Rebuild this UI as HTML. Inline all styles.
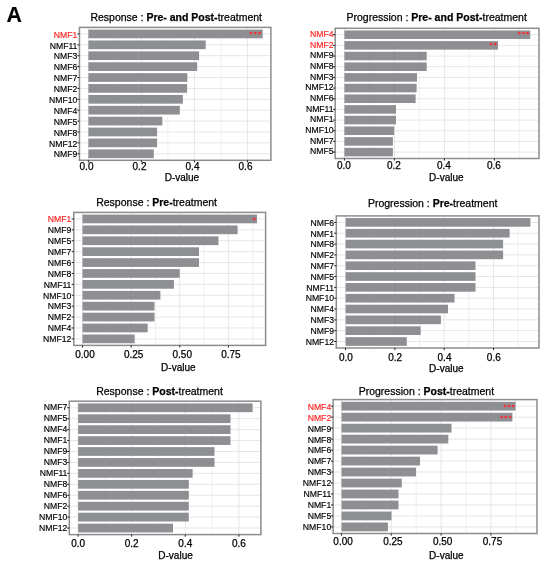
<!DOCTYPE html>
<html><head><meta charset="utf-8"><title>D-value bar charts</title>
<style>
html,body{margin:0;padding:0;background:#fff;}
svg{display:block;}
text{font-family:"Liberation Sans", Arial, sans-serif;}
.yl{font-size:9.5px;fill:#000;stroke:#000;stroke-width:0.18px;text-anchor:end;}
.xl{font-size:10px;fill:#000;stroke:#000;stroke-width:0.25px;text-anchor:middle;}
.tt{font-size:10.5px;fill:#000;stroke:#000;stroke-width:0.25px;}
.tt .b{font-weight:bold;}
.dv{font-size:10px;fill:#000;stroke:#000;stroke-width:0.25px;}
.st{font-size:6.2px;font-weight:bold;letter-spacing:1.75px;fill:#f5333f;stroke:#f5333f;stroke-width:0.6px;stroke-linejoin:round;}
.r{fill:#ff2222;stroke:#ff2222;}
</style></head><body>
<svg width="550" height="565" viewBox="0 0 550 565">
<rect width="550" height="565" fill="#fff"/>
<g>
<line x1="114.9" y1="27.4" x2="114.9" y2="160.3" stroke="#e6e6e6" stroke-width="0.6"/>
<line x1="167.9" y1="27.4" x2="167.9" y2="160.3" stroke="#e6e6e6" stroke-width="0.6"/>
<line x1="220.9" y1="27.4" x2="220.9" y2="160.3" stroke="#e6e6e6" stroke-width="0.6"/>
<line x1="88.4" y1="27.4" x2="88.4" y2="160.3" stroke="#e6e6e6" stroke-width="1"/>
<line x1="141.4" y1="27.4" x2="141.4" y2="160.3" stroke="#e6e6e6" stroke-width="1"/>
<line x1="194.4" y1="27.4" x2="194.4" y2="160.3" stroke="#e6e6e6" stroke-width="1"/>
<line x1="247.4" y1="27.4" x2="247.4" y2="160.3" stroke="#e6e6e6" stroke-width="1"/>
<line x1="79.45" y1="33.94" x2="270.9" y2="33.94" stroke="#e6e6e6" stroke-width="1"/>
<line x1="79.45" y1="44.83" x2="270.9" y2="44.83" stroke="#e6e6e6" stroke-width="1"/>
<line x1="79.45" y1="55.72" x2="270.9" y2="55.72" stroke="#e6e6e6" stroke-width="1"/>
<line x1="79.45" y1="66.62" x2="270.9" y2="66.62" stroke="#e6e6e6" stroke-width="1"/>
<line x1="79.45" y1="77.51" x2="270.9" y2="77.51" stroke="#e6e6e6" stroke-width="1"/>
<line x1="79.45" y1="88.4" x2="270.9" y2="88.4" stroke="#e6e6e6" stroke-width="1"/>
<line x1="79.45" y1="99.3" x2="270.9" y2="99.3" stroke="#e6e6e6" stroke-width="1"/>
<line x1="79.45" y1="110.19" x2="270.9" y2="110.19" stroke="#e6e6e6" stroke-width="1"/>
<line x1="79.45" y1="121.08" x2="270.9" y2="121.08" stroke="#e6e6e6" stroke-width="1"/>
<line x1="79.45" y1="131.98" x2="270.9" y2="131.98" stroke="#e6e6e6" stroke-width="1"/>
<line x1="79.45" y1="142.87" x2="270.9" y2="142.87" stroke="#e6e6e6" stroke-width="1"/>
<line x1="79.45" y1="153.76" x2="270.9" y2="153.76" stroke="#e6e6e6" stroke-width="1"/>
<rect x="88.4" y="29.58" width="174.3" height="8.71" fill="#8e8f93"/>
<rect x="88.4" y="40.47" width="117.3" height="8.71" fill="#8e8f93"/>
<rect x="88.4" y="51.37" width="110.7" height="8.71" fill="#8e8f93"/>
<rect x="88.4" y="62.26" width="108.8" height="8.71" fill="#8e8f93"/>
<rect x="88.4" y="73.15" width="98.9" height="8.71" fill="#8e8f93"/>
<rect x="88.4" y="84.05" width="98.7" height="8.71" fill="#8e8f93"/>
<rect x="88.4" y="94.94" width="94.5" height="8.71" fill="#8e8f93"/>
<rect x="88.4" y="105.83" width="91.4" height="8.71" fill="#8e8f93"/>
<rect x="88.4" y="116.73" width="73.9" height="8.71" fill="#8e8f93"/>
<rect x="88.4" y="127.62" width="68.7" height="8.71" fill="#8e8f93"/>
<rect x="88.4" y="138.51" width="68.7" height="8.71" fill="#8e8f93"/>
<rect x="88.4" y="149.41" width="65.4" height="8.71" fill="#8e8f93"/>
<rect x="79.45" y="27.4" width="191.45" height="132.9" fill="none" stroke="#8c8c8c" stroke-width="1.5"/>
<line x1="77.35" y1="33.94" x2="79.45" y2="33.94" stroke="#222" stroke-width="1"/>
<line x1="77.35" y1="44.83" x2="79.45" y2="44.83" stroke="#222" stroke-width="1"/>
<line x1="77.35" y1="55.72" x2="79.45" y2="55.72" stroke="#222" stroke-width="1"/>
<line x1="77.35" y1="66.62" x2="79.45" y2="66.62" stroke="#222" stroke-width="1"/>
<line x1="77.35" y1="77.51" x2="79.45" y2="77.51" stroke="#222" stroke-width="1"/>
<line x1="77.35" y1="88.4" x2="79.45" y2="88.4" stroke="#222" stroke-width="1"/>
<line x1="77.35" y1="99.3" x2="79.45" y2="99.3" stroke="#222" stroke-width="1"/>
<line x1="77.35" y1="110.19" x2="79.45" y2="110.19" stroke="#222" stroke-width="1"/>
<line x1="77.35" y1="121.08" x2="79.45" y2="121.08" stroke="#222" stroke-width="1"/>
<line x1="77.35" y1="131.98" x2="79.45" y2="131.98" stroke="#222" stroke-width="1"/>
<line x1="77.35" y1="142.87" x2="79.45" y2="142.87" stroke="#222" stroke-width="1"/>
<line x1="77.35" y1="153.76" x2="79.45" y2="153.76" stroke="#222" stroke-width="1"/>
<line x1="88.4" y1="160.3" x2="88.4" y2="162.4" stroke="#222" stroke-width="1"/>
<line x1="141.4" y1="160.3" x2="141.4" y2="162.4" stroke="#222" stroke-width="1"/>
<line x1="194.4" y1="160.3" x2="194.4" y2="162.4" stroke="#222" stroke-width="1"/>
<line x1="247.4" y1="160.3" x2="247.4" y2="162.4" stroke="#222" stroke-width="1"/>
<line x1="369.4" y1="28.3" x2="369.4" y2="158.5" stroke="#e6e6e6" stroke-width="0.6"/>
<line x1="419.4" y1="28.3" x2="419.4" y2="158.5" stroke="#e6e6e6" stroke-width="0.6"/>
<line x1="469.4" y1="28.3" x2="469.4" y2="158.5" stroke="#e6e6e6" stroke-width="0.6"/>
<line x1="519.4" y1="28.3" x2="519.4" y2="158.5" stroke="#e6e6e6" stroke-width="0.6"/>
<line x1="344.4" y1="28.3" x2="344.4" y2="158.5" stroke="#e6e6e6" stroke-width="1"/>
<line x1="394.4" y1="28.3" x2="394.4" y2="158.5" stroke="#e6e6e6" stroke-width="1"/>
<line x1="444.4" y1="28.3" x2="444.4" y2="158.5" stroke="#e6e6e6" stroke-width="1"/>
<line x1="494.4" y1="28.3" x2="494.4" y2="158.5" stroke="#e6e6e6" stroke-width="1"/>
<line x1="335.2" y1="34.7" x2="539" y2="34.7" stroke="#e6e6e6" stroke-width="1"/>
<line x1="335.2" y1="45.38" x2="539" y2="45.38" stroke="#e6e6e6" stroke-width="1"/>
<line x1="335.2" y1="56.05" x2="539" y2="56.05" stroke="#e6e6e6" stroke-width="1"/>
<line x1="335.2" y1="66.72" x2="539" y2="66.72" stroke="#e6e6e6" stroke-width="1"/>
<line x1="335.2" y1="77.39" x2="539" y2="77.39" stroke="#e6e6e6" stroke-width="1"/>
<line x1="335.2" y1="88.06" x2="539" y2="88.06" stroke="#e6e6e6" stroke-width="1"/>
<line x1="335.2" y1="98.74" x2="539" y2="98.74" stroke="#e6e6e6" stroke-width="1"/>
<line x1="335.2" y1="109.41" x2="539" y2="109.41" stroke="#e6e6e6" stroke-width="1"/>
<line x1="335.2" y1="120.08" x2="539" y2="120.08" stroke="#e6e6e6" stroke-width="1"/>
<line x1="335.2" y1="130.75" x2="539" y2="130.75" stroke="#e6e6e6" stroke-width="1"/>
<line x1="335.2" y1="141.42" x2="539" y2="141.42" stroke="#e6e6e6" stroke-width="1"/>
<line x1="335.2" y1="152.1" x2="539" y2="152.1" stroke="#e6e6e6" stroke-width="1"/>
<rect x="344.4" y="30.43" width="185.9" height="8.54" fill="#8e8f93"/>
<rect x="344.4" y="41.11" width="153.6" height="8.54" fill="#8e8f93"/>
<rect x="344.4" y="51.78" width="82.3" height="8.54" fill="#8e8f93"/>
<rect x="344.4" y="62.45" width="82.3" height="8.54" fill="#8e8f93"/>
<rect x="344.4" y="73.12" width="72.6" height="8.54" fill="#8e8f93"/>
<rect x="344.4" y="83.8" width="72.2" height="8.54" fill="#8e8f93"/>
<rect x="344.4" y="94.47" width="71.2" height="8.54" fill="#8e8f93"/>
<rect x="344.4" y="105.14" width="51.6" height="8.54" fill="#8e8f93"/>
<rect x="344.4" y="115.81" width="51.6" height="8.54" fill="#8e8f93"/>
<rect x="344.4" y="126.48" width="49.8" height="8.54" fill="#8e8f93"/>
<rect x="344.4" y="137.16" width="48.5" height="8.54" fill="#8e8f93"/>
<rect x="344.4" y="147.83" width="48.5" height="8.54" fill="#8e8f93"/>
<rect x="335.2" y="28.3" width="203.8" height="130.2" fill="none" stroke="#8c8c8c" stroke-width="1.5"/>
<line x1="333.1" y1="34.7" x2="335.2" y2="34.7" stroke="#222" stroke-width="1"/>
<line x1="333.1" y1="45.38" x2="335.2" y2="45.38" stroke="#222" stroke-width="1"/>
<line x1="333.1" y1="56.05" x2="335.2" y2="56.05" stroke="#222" stroke-width="1"/>
<line x1="333.1" y1="66.72" x2="335.2" y2="66.72" stroke="#222" stroke-width="1"/>
<line x1="333.1" y1="77.39" x2="335.2" y2="77.39" stroke="#222" stroke-width="1"/>
<line x1="333.1" y1="88.06" x2="335.2" y2="88.06" stroke="#222" stroke-width="1"/>
<line x1="333.1" y1="98.74" x2="335.2" y2="98.74" stroke="#222" stroke-width="1"/>
<line x1="333.1" y1="109.41" x2="335.2" y2="109.41" stroke="#222" stroke-width="1"/>
<line x1="333.1" y1="120.08" x2="335.2" y2="120.08" stroke="#222" stroke-width="1"/>
<line x1="333.1" y1="130.75" x2="335.2" y2="130.75" stroke="#222" stroke-width="1"/>
<line x1="333.1" y1="141.42" x2="335.2" y2="141.42" stroke="#222" stroke-width="1"/>
<line x1="333.1" y1="152.1" x2="335.2" y2="152.1" stroke="#222" stroke-width="1"/>
<line x1="344.4" y1="158.5" x2="344.4" y2="160.6" stroke="#222" stroke-width="1"/>
<line x1="394.4" y1="158.5" x2="394.4" y2="160.6" stroke="#222" stroke-width="1"/>
<line x1="444.4" y1="158.5" x2="444.4" y2="160.6" stroke="#222" stroke-width="1"/>
<line x1="494.4" y1="158.5" x2="494.4" y2="160.6" stroke="#222" stroke-width="1"/>
<line x1="106.81" y1="212.4" x2="106.81" y2="345.4" stroke="#e6e6e6" stroke-width="0.6"/>
<line x1="155.44" y1="212.4" x2="155.44" y2="345.4" stroke="#e6e6e6" stroke-width="0.6"/>
<line x1="204.06" y1="212.4" x2="204.06" y2="345.4" stroke="#e6e6e6" stroke-width="0.6"/>
<line x1="252.69" y1="212.4" x2="252.69" y2="345.4" stroke="#e6e6e6" stroke-width="0.6"/>
<line x1="82.5" y1="212.4" x2="82.5" y2="345.4" stroke="#e6e6e6" stroke-width="1"/>
<line x1="131.12" y1="212.4" x2="131.12" y2="345.4" stroke="#e6e6e6" stroke-width="1"/>
<line x1="179.75" y1="212.4" x2="179.75" y2="345.4" stroke="#e6e6e6" stroke-width="1"/>
<line x1="228.38" y1="212.4" x2="228.38" y2="345.4" stroke="#e6e6e6" stroke-width="1"/>
<line x1="73.8" y1="218.94" x2="265.6" y2="218.94" stroke="#e6e6e6" stroke-width="1"/>
<line x1="73.8" y1="229.84" x2="265.6" y2="229.84" stroke="#e6e6e6" stroke-width="1"/>
<line x1="73.8" y1="240.74" x2="265.6" y2="240.74" stroke="#e6e6e6" stroke-width="1"/>
<line x1="73.8" y1="251.65" x2="265.6" y2="251.65" stroke="#e6e6e6" stroke-width="1"/>
<line x1="73.8" y1="262.55" x2="265.6" y2="262.55" stroke="#e6e6e6" stroke-width="1"/>
<line x1="73.8" y1="273.45" x2="265.6" y2="273.45" stroke="#e6e6e6" stroke-width="1"/>
<line x1="73.8" y1="284.35" x2="265.6" y2="284.35" stroke="#e6e6e6" stroke-width="1"/>
<line x1="73.8" y1="295.25" x2="265.6" y2="295.25" stroke="#e6e6e6" stroke-width="1"/>
<line x1="73.8" y1="306.15" x2="265.6" y2="306.15" stroke="#e6e6e6" stroke-width="1"/>
<line x1="73.8" y1="317.06" x2="265.6" y2="317.06" stroke="#e6e6e6" stroke-width="1"/>
<line x1="73.8" y1="327.96" x2="265.6" y2="327.96" stroke="#e6e6e6" stroke-width="1"/>
<line x1="73.8" y1="338.86" x2="265.6" y2="338.86" stroke="#e6e6e6" stroke-width="1"/>
<rect x="82.5" y="214.58" width="174.5" height="8.72" fill="#8e8f93"/>
<rect x="82.5" y="225.48" width="155.1" height="8.72" fill="#8e8f93"/>
<rect x="82.5" y="236.38" width="136" height="8.72" fill="#8e8f93"/>
<rect x="82.5" y="247.29" width="116.5" height="8.72" fill="#8e8f93"/>
<rect x="82.5" y="258.19" width="116.5" height="8.72" fill="#8e8f93"/>
<rect x="82.5" y="269.09" width="97.2" height="8.72" fill="#8e8f93"/>
<rect x="82.5" y="279.99" width="91.4" height="8.72" fill="#8e8f93"/>
<rect x="82.5" y="290.89" width="77.9" height="8.72" fill="#8e8f93"/>
<rect x="82.5" y="301.79" width="72" height="8.72" fill="#8e8f93"/>
<rect x="82.5" y="312.7" width="72" height="8.72" fill="#8e8f93"/>
<rect x="82.5" y="323.6" width="65.2" height="8.72" fill="#8e8f93"/>
<rect x="82.5" y="334.5" width="52.2" height="8.72" fill="#8e8f93"/>
<rect x="73.8" y="212.4" width="191.8" height="133" fill="none" stroke="#8c8c8c" stroke-width="1.5"/>
<line x1="71.7" y1="218.94" x2="73.8" y2="218.94" stroke="#222" stroke-width="1"/>
<line x1="71.7" y1="229.84" x2="73.8" y2="229.84" stroke="#222" stroke-width="1"/>
<line x1="71.7" y1="240.74" x2="73.8" y2="240.74" stroke="#222" stroke-width="1"/>
<line x1="71.7" y1="251.65" x2="73.8" y2="251.65" stroke="#222" stroke-width="1"/>
<line x1="71.7" y1="262.55" x2="73.8" y2="262.55" stroke="#222" stroke-width="1"/>
<line x1="71.7" y1="273.45" x2="73.8" y2="273.45" stroke="#222" stroke-width="1"/>
<line x1="71.7" y1="284.35" x2="73.8" y2="284.35" stroke="#222" stroke-width="1"/>
<line x1="71.7" y1="295.25" x2="73.8" y2="295.25" stroke="#222" stroke-width="1"/>
<line x1="71.7" y1="306.15" x2="73.8" y2="306.15" stroke="#222" stroke-width="1"/>
<line x1="71.7" y1="317.06" x2="73.8" y2="317.06" stroke="#222" stroke-width="1"/>
<line x1="71.7" y1="327.96" x2="73.8" y2="327.96" stroke="#222" stroke-width="1"/>
<line x1="71.7" y1="338.86" x2="73.8" y2="338.86" stroke="#222" stroke-width="1"/>
<line x1="82.5" y1="345.4" x2="82.5" y2="347.5" stroke="#222" stroke-width="1"/>
<line x1="131.12" y1="345.4" x2="131.12" y2="347.5" stroke="#222" stroke-width="1"/>
<line x1="179.75" y1="345.4" x2="179.75" y2="347.5" stroke="#222" stroke-width="1"/>
<line x1="228.38" y1="345.4" x2="228.38" y2="347.5" stroke="#222" stroke-width="1"/>
<line x1="370.25" y1="215.9" x2="370.25" y2="348" stroke="#e6e6e6" stroke-width="0.6"/>
<line x1="419.55" y1="215.9" x2="419.55" y2="348" stroke="#e6e6e6" stroke-width="0.6"/>
<line x1="468.85" y1="215.9" x2="468.85" y2="348" stroke="#e6e6e6" stroke-width="0.6"/>
<line x1="518.15" y1="215.9" x2="518.15" y2="348" stroke="#e6e6e6" stroke-width="0.6"/>
<line x1="345.6" y1="215.9" x2="345.6" y2="348" stroke="#e6e6e6" stroke-width="1"/>
<line x1="394.9" y1="215.9" x2="394.9" y2="348" stroke="#e6e6e6" stroke-width="1"/>
<line x1="444.2" y1="215.9" x2="444.2" y2="348" stroke="#e6e6e6" stroke-width="1"/>
<line x1="493.5" y1="215.9" x2="493.5" y2="348" stroke="#e6e6e6" stroke-width="1"/>
<line x1="336.3" y1="222.4" x2="539" y2="222.4" stroke="#e6e6e6" stroke-width="1"/>
<line x1="336.3" y1="233.22" x2="539" y2="233.22" stroke="#e6e6e6" stroke-width="1"/>
<line x1="336.3" y1="244.05" x2="539" y2="244.05" stroke="#e6e6e6" stroke-width="1"/>
<line x1="336.3" y1="254.88" x2="539" y2="254.88" stroke="#e6e6e6" stroke-width="1"/>
<line x1="336.3" y1="265.71" x2="539" y2="265.71" stroke="#e6e6e6" stroke-width="1"/>
<line x1="336.3" y1="276.54" x2="539" y2="276.54" stroke="#e6e6e6" stroke-width="1"/>
<line x1="336.3" y1="287.36" x2="539" y2="287.36" stroke="#e6e6e6" stroke-width="1"/>
<line x1="336.3" y1="298.19" x2="539" y2="298.19" stroke="#e6e6e6" stroke-width="1"/>
<line x1="336.3" y1="309.02" x2="539" y2="309.02" stroke="#e6e6e6" stroke-width="1"/>
<line x1="336.3" y1="319.85" x2="539" y2="319.85" stroke="#e6e6e6" stroke-width="1"/>
<line x1="336.3" y1="330.68" x2="539" y2="330.68" stroke="#e6e6e6" stroke-width="1"/>
<line x1="336.3" y1="341.5" x2="539" y2="341.5" stroke="#e6e6e6" stroke-width="1"/>
<rect x="345.6" y="218.07" width="184.8" height="8.66" fill="#8e8f93"/>
<rect x="345.6" y="228.89" width="164" height="8.66" fill="#8e8f93"/>
<rect x="345.6" y="239.72" width="157.5" height="8.66" fill="#8e8f93"/>
<rect x="345.6" y="250.55" width="157.5" height="8.66" fill="#8e8f93"/>
<rect x="345.6" y="261.38" width="129.9" height="8.66" fill="#8e8f93"/>
<rect x="345.6" y="272.2" width="129.9" height="8.66" fill="#8e8f93"/>
<rect x="345.6" y="283.03" width="129.9" height="8.66" fill="#8e8f93"/>
<rect x="345.6" y="293.86" width="108.9" height="8.66" fill="#8e8f93"/>
<rect x="345.6" y="304.69" width="102.4" height="8.66" fill="#8e8f93"/>
<rect x="345.6" y="315.52" width="95.3" height="8.66" fill="#8e8f93"/>
<rect x="345.6" y="326.34" width="75.1" height="8.66" fill="#8e8f93"/>
<rect x="345.6" y="337.17" width="61.2" height="8.66" fill="#8e8f93"/>
<rect x="336.3" y="215.9" width="202.7" height="132.1" fill="none" stroke="#8c8c8c" stroke-width="1.5"/>
<line x1="334.2" y1="222.4" x2="336.3" y2="222.4" stroke="#222" stroke-width="1"/>
<line x1="334.2" y1="233.22" x2="336.3" y2="233.22" stroke="#222" stroke-width="1"/>
<line x1="334.2" y1="244.05" x2="336.3" y2="244.05" stroke="#222" stroke-width="1"/>
<line x1="334.2" y1="254.88" x2="336.3" y2="254.88" stroke="#222" stroke-width="1"/>
<line x1="334.2" y1="265.71" x2="336.3" y2="265.71" stroke="#222" stroke-width="1"/>
<line x1="334.2" y1="276.54" x2="336.3" y2="276.54" stroke="#222" stroke-width="1"/>
<line x1="334.2" y1="287.36" x2="336.3" y2="287.36" stroke="#222" stroke-width="1"/>
<line x1="334.2" y1="298.19" x2="336.3" y2="298.19" stroke="#222" stroke-width="1"/>
<line x1="334.2" y1="309.02" x2="336.3" y2="309.02" stroke="#222" stroke-width="1"/>
<line x1="334.2" y1="319.85" x2="336.3" y2="319.85" stroke="#222" stroke-width="1"/>
<line x1="334.2" y1="330.68" x2="336.3" y2="330.68" stroke="#222" stroke-width="1"/>
<line x1="334.2" y1="341.5" x2="336.3" y2="341.5" stroke="#222" stroke-width="1"/>
<line x1="345.6" y1="348" x2="345.6" y2="350.1" stroke="#222" stroke-width="1"/>
<line x1="394.9" y1="348" x2="394.9" y2="350.1" stroke="#222" stroke-width="1"/>
<line x1="444.2" y1="348" x2="444.2" y2="350.1" stroke="#222" stroke-width="1"/>
<line x1="493.5" y1="348" x2="493.5" y2="350.1" stroke="#222" stroke-width="1"/>
<line x1="104.9" y1="401.2" x2="104.9" y2="534.6" stroke="#e6e6e6" stroke-width="0.6"/>
<line x1="158.5" y1="401.2" x2="158.5" y2="534.6" stroke="#e6e6e6" stroke-width="0.6"/>
<line x1="212.1" y1="401.2" x2="212.1" y2="534.6" stroke="#e6e6e6" stroke-width="0.6"/>
<line x1="78.1" y1="401.2" x2="78.1" y2="534.6" stroke="#e6e6e6" stroke-width="1"/>
<line x1="131.7" y1="401.2" x2="131.7" y2="534.6" stroke="#e6e6e6" stroke-width="1"/>
<line x1="185.3" y1="401.2" x2="185.3" y2="534.6" stroke="#e6e6e6" stroke-width="1"/>
<line x1="238.9" y1="401.2" x2="238.9" y2="534.6" stroke="#e6e6e6" stroke-width="1"/>
<line x1="69.3" y1="407.76" x2="260.9" y2="407.76" stroke="#e6e6e6" stroke-width="1"/>
<line x1="69.3" y1="418.7" x2="260.9" y2="418.7" stroke="#e6e6e6" stroke-width="1"/>
<line x1="69.3" y1="429.63" x2="260.9" y2="429.63" stroke="#e6e6e6" stroke-width="1"/>
<line x1="69.3" y1="440.56" x2="260.9" y2="440.56" stroke="#e6e6e6" stroke-width="1"/>
<line x1="69.3" y1="451.5" x2="260.9" y2="451.5" stroke="#e6e6e6" stroke-width="1"/>
<line x1="69.3" y1="462.43" x2="260.9" y2="462.43" stroke="#e6e6e6" stroke-width="1"/>
<line x1="69.3" y1="473.37" x2="260.9" y2="473.37" stroke="#e6e6e6" stroke-width="1"/>
<line x1="69.3" y1="484.3" x2="260.9" y2="484.3" stroke="#e6e6e6" stroke-width="1"/>
<line x1="69.3" y1="495.24" x2="260.9" y2="495.24" stroke="#e6e6e6" stroke-width="1"/>
<line x1="69.3" y1="506.17" x2="260.9" y2="506.17" stroke="#e6e6e6" stroke-width="1"/>
<line x1="69.3" y1="517.1" x2="260.9" y2="517.1" stroke="#e6e6e6" stroke-width="1"/>
<line x1="69.3" y1="528.04" x2="260.9" y2="528.04" stroke="#e6e6e6" stroke-width="1"/>
<rect x="78.1" y="403.39" width="174.5" height="8.75" fill="#8e8f93"/>
<rect x="78.1" y="414.32" width="152.4" height="8.75" fill="#8e8f93"/>
<rect x="78.1" y="425.26" width="152.4" height="8.75" fill="#8e8f93"/>
<rect x="78.1" y="436.19" width="152.4" height="8.75" fill="#8e8f93"/>
<rect x="78.1" y="447.12" width="136.4" height="8.75" fill="#8e8f93"/>
<rect x="78.1" y="458.06" width="136.4" height="8.75" fill="#8e8f93"/>
<rect x="78.1" y="468.99" width="114.5" height="8.75" fill="#8e8f93"/>
<rect x="78.1" y="479.93" width="110.7" height="8.75" fill="#8e8f93"/>
<rect x="78.1" y="490.86" width="110.7" height="8.75" fill="#8e8f93"/>
<rect x="78.1" y="501.8" width="110.7" height="8.75" fill="#8e8f93"/>
<rect x="78.1" y="512.73" width="110.7" height="8.75" fill="#8e8f93"/>
<rect x="78.1" y="523.67" width="94.9" height="8.75" fill="#8e8f93"/>
<rect x="69.3" y="401.2" width="191.6" height="133.4" fill="none" stroke="#8c8c8c" stroke-width="1.5"/>
<line x1="67.2" y1="407.76" x2="69.3" y2="407.76" stroke="#222" stroke-width="1"/>
<line x1="67.2" y1="418.7" x2="69.3" y2="418.7" stroke="#222" stroke-width="1"/>
<line x1="67.2" y1="429.63" x2="69.3" y2="429.63" stroke="#222" stroke-width="1"/>
<line x1="67.2" y1="440.56" x2="69.3" y2="440.56" stroke="#222" stroke-width="1"/>
<line x1="67.2" y1="451.5" x2="69.3" y2="451.5" stroke="#222" stroke-width="1"/>
<line x1="67.2" y1="462.43" x2="69.3" y2="462.43" stroke="#222" stroke-width="1"/>
<line x1="67.2" y1="473.37" x2="69.3" y2="473.37" stroke="#222" stroke-width="1"/>
<line x1="67.2" y1="484.3" x2="69.3" y2="484.3" stroke="#222" stroke-width="1"/>
<line x1="67.2" y1="495.24" x2="69.3" y2="495.24" stroke="#222" stroke-width="1"/>
<line x1="67.2" y1="506.17" x2="69.3" y2="506.17" stroke="#222" stroke-width="1"/>
<line x1="67.2" y1="517.1" x2="69.3" y2="517.1" stroke="#222" stroke-width="1"/>
<line x1="67.2" y1="528.04" x2="69.3" y2="528.04" stroke="#222" stroke-width="1"/>
<line x1="78.1" y1="534.6" x2="78.1" y2="536.7" stroke="#222" stroke-width="1"/>
<line x1="131.7" y1="534.6" x2="131.7" y2="536.7" stroke="#222" stroke-width="1"/>
<line x1="185.3" y1="534.6" x2="185.3" y2="536.7" stroke="#222" stroke-width="1"/>
<line x1="238.9" y1="534.6" x2="238.9" y2="536.7" stroke="#222" stroke-width="1"/>
<line x1="366.4" y1="399.6" x2="366.4" y2="533.5" stroke="#e6e6e6" stroke-width="0.6"/>
<line x1="416.2" y1="399.6" x2="416.2" y2="533.5" stroke="#e6e6e6" stroke-width="0.6"/>
<line x1="466" y1="399.6" x2="466" y2="533.5" stroke="#e6e6e6" stroke-width="0.6"/>
<line x1="515.8" y1="399.6" x2="515.8" y2="533.5" stroke="#e6e6e6" stroke-width="0.6"/>
<line x1="341.5" y1="399.6" x2="341.5" y2="533.5" stroke="#e6e6e6" stroke-width="1"/>
<line x1="391.3" y1="399.6" x2="391.3" y2="533.5" stroke="#e6e6e6" stroke-width="1"/>
<line x1="441.1" y1="399.6" x2="441.1" y2="533.5" stroke="#e6e6e6" stroke-width="1"/>
<line x1="490.9" y1="399.6" x2="490.9" y2="533.5" stroke="#e6e6e6" stroke-width="1"/>
<line x1="333.1" y1="406.19" x2="537" y2="406.19" stroke="#e6e6e6" stroke-width="1"/>
<line x1="333.1" y1="417.16" x2="537" y2="417.16" stroke="#e6e6e6" stroke-width="1"/>
<line x1="333.1" y1="428.14" x2="537" y2="428.14" stroke="#e6e6e6" stroke-width="1"/>
<line x1="333.1" y1="439.11" x2="537" y2="439.11" stroke="#e6e6e6" stroke-width="1"/>
<line x1="333.1" y1="450.09" x2="537" y2="450.09" stroke="#e6e6e6" stroke-width="1"/>
<line x1="333.1" y1="461.06" x2="537" y2="461.06" stroke="#e6e6e6" stroke-width="1"/>
<line x1="333.1" y1="472.04" x2="537" y2="472.04" stroke="#e6e6e6" stroke-width="1"/>
<line x1="333.1" y1="483.01" x2="537" y2="483.01" stroke="#e6e6e6" stroke-width="1"/>
<line x1="333.1" y1="493.99" x2="537" y2="493.99" stroke="#e6e6e6" stroke-width="1"/>
<line x1="333.1" y1="504.96" x2="537" y2="504.96" stroke="#e6e6e6" stroke-width="1"/>
<line x1="333.1" y1="515.94" x2="537" y2="515.94" stroke="#e6e6e6" stroke-width="1"/>
<line x1="333.1" y1="526.91" x2="537" y2="526.91" stroke="#e6e6e6" stroke-width="1"/>
<rect x="341.5" y="401.8" width="174.1" height="8.78" fill="#8e8f93"/>
<rect x="341.5" y="412.77" width="170.9" height="8.78" fill="#8e8f93"/>
<rect x="341.5" y="423.75" width="110" height="8.78" fill="#8e8f93"/>
<rect x="341.5" y="434.72" width="106.8" height="8.78" fill="#8e8f93"/>
<rect x="341.5" y="445.7" width="96.1" height="8.78" fill="#8e8f93"/>
<rect x="341.5" y="456.67" width="78.5" height="8.78" fill="#8e8f93"/>
<rect x="341.5" y="467.65" width="74.5" height="8.78" fill="#8e8f93"/>
<rect x="341.5" y="478.62" width="60.3" height="8.78" fill="#8e8f93"/>
<rect x="341.5" y="489.6" width="57" height="8.78" fill="#8e8f93"/>
<rect x="341.5" y="500.57" width="57" height="8.78" fill="#8e8f93"/>
<rect x="341.5" y="511.55" width="50" height="8.78" fill="#8e8f93"/>
<rect x="341.5" y="522.52" width="46.4" height="8.78" fill="#8e8f93"/>
<rect x="333.1" y="399.6" width="203.9" height="133.9" fill="none" stroke="#8c8c8c" stroke-width="1.5"/>
<line x1="331" y1="406.19" x2="333.1" y2="406.19" stroke="#222" stroke-width="1"/>
<line x1="331" y1="417.16" x2="333.1" y2="417.16" stroke="#222" stroke-width="1"/>
<line x1="331" y1="428.14" x2="333.1" y2="428.14" stroke="#222" stroke-width="1"/>
<line x1="331" y1="439.11" x2="333.1" y2="439.11" stroke="#222" stroke-width="1"/>
<line x1="331" y1="450.09" x2="333.1" y2="450.09" stroke="#222" stroke-width="1"/>
<line x1="331" y1="461.06" x2="333.1" y2="461.06" stroke="#222" stroke-width="1"/>
<line x1="331" y1="472.04" x2="333.1" y2="472.04" stroke="#222" stroke-width="1"/>
<line x1="331" y1="483.01" x2="333.1" y2="483.01" stroke="#222" stroke-width="1"/>
<line x1="331" y1="493.99" x2="333.1" y2="493.99" stroke="#222" stroke-width="1"/>
<line x1="331" y1="504.96" x2="333.1" y2="504.96" stroke="#222" stroke-width="1"/>
<line x1="331" y1="515.94" x2="333.1" y2="515.94" stroke="#222" stroke-width="1"/>
<line x1="331" y1="526.91" x2="333.1" y2="526.91" stroke="#222" stroke-width="1"/>
<line x1="341.5" y1="533.5" x2="341.5" y2="535.6" stroke="#222" stroke-width="1"/>
<line x1="391.3" y1="533.5" x2="391.3" y2="535.6" stroke="#222" stroke-width="1"/>
<line x1="441.1" y1="533.5" x2="441.1" y2="535.6" stroke="#222" stroke-width="1"/>
<line x1="490.9" y1="533.5" x2="490.9" y2="535.6" stroke="#222" stroke-width="1"/>
</g>
<g>
<text x="6.4" y="21.6" style="font-size:21.3px;font-weight:bold;fill:#000;stroke:#000;stroke-width:0.15px;">A</text>
<text class="yl r" transform="translate(77.4 37.64) scale(0.91 1)">NMF1</text>
<text class="yl" transform="translate(77.4 48.53) scale(0.91 1)">NMF11</text>
<text class="yl" transform="translate(77.4 59.42) scale(0.91 1)">NMF3</text>
<text class="yl" transform="translate(77.4 70.32) scale(0.91 1)">NMF6</text>
<text class="yl" transform="translate(77.4 81.21) scale(0.91 1)">NMF7</text>
<text class="yl" transform="translate(77.4 92.1) scale(0.91 1)">NMF2</text>
<text class="yl" transform="translate(77.4 103) scale(0.91 1)">NMF10</text>
<text class="yl" transform="translate(77.4 113.89) scale(0.91 1)">NMF4</text>
<text class="yl" transform="translate(77.4 124.78) scale(0.91 1)">NMF5</text>
<text class="yl" transform="translate(77.4 135.68) scale(0.91 1)">NMF8</text>
<text class="yl" transform="translate(77.4 146.57) scale(0.91 1)">NMF12</text>
<text class="yl" transform="translate(77.4 157.46) scale(0.91 1)">NMF9</text>
<text class="st" x="249.84" y="36.34">***</text>
<text class="xl" x="86.5" y="170.2">0.0</text>
<text class="xl" x="139.5" y="170.2">0.2</text>
<text class="xl" x="192.5" y="170.2">0.4</text>
<text class="xl" x="245.5" y="170.2">0.6</text>
<text class="tt" x="90.4" y="21.4">Response : <tspan class="b">Pre- and Post-</tspan>treatment</text>
<text class="dv" x="164.7" y="181.4">D-value</text>
<text class="yl r" transform="translate(333.6 37) scale(0.91 1)">NMF4</text>
<text class="yl r" transform="translate(333.6 47.68) scale(0.91 1)">NMF2</text>
<text class="yl" transform="translate(333.6 58.35) scale(0.91 1)">NMF9</text>
<text class="yl" transform="translate(333.6 69.02) scale(0.91 1)">NMF8</text>
<text class="yl" transform="translate(333.6 79.69) scale(0.91 1)">NMF3</text>
<text class="yl" transform="translate(333.6 90.36) scale(0.91 1)">NMF12</text>
<text class="yl" transform="translate(333.6 101.04) scale(0.91 1)">NMF6</text>
<text class="yl" transform="translate(333.6 111.71) scale(0.91 1)">NMF11</text>
<text class="yl" transform="translate(333.6 122.38) scale(0.91 1)">NMF1</text>
<text class="yl" transform="translate(333.6 133.05) scale(0.91 1)">NMF10</text>
<text class="yl" transform="translate(333.6 143.72) scale(0.91 1)">NMF7</text>
<text class="yl" transform="translate(333.6 154.4) scale(0.91 1)">NMF5</text>
<text class="st" x="518.04" y="36.1">***</text>
<text class="st" x="489.84" y="46.78">**</text>
<text class="xl" x="343.9" y="169.3">0.0</text>
<text class="xl" x="393.9" y="169.3">0.2</text>
<text class="xl" x="443.9" y="169.3">0.4</text>
<text class="xl" x="493.9" y="169.3">0.6</text>
<text class="tt" x="346.5" y="21">Progression : <tspan class="b">Pre- and Post-</tspan>treatment</text>
<text class="dv" x="429.1" y="180.7">D-value</text>
<text class="yl r" transform="translate(71.4 222.24) scale(0.91 1)">NMF1</text>
<text class="yl" transform="translate(71.4 233.14) scale(0.91 1)">NMF9</text>
<text class="yl" transform="translate(71.4 244.04) scale(0.91 1)">NMF5</text>
<text class="yl" transform="translate(71.4 254.95) scale(0.91 1)">NMF7</text>
<text class="yl" transform="translate(71.4 265.85) scale(0.91 1)">NMF6</text>
<text class="yl" transform="translate(71.4 276.75) scale(0.91 1)">NMF8</text>
<text class="yl" transform="translate(71.4 287.65) scale(0.91 1)">NMF11</text>
<text class="yl" transform="translate(71.4 298.55) scale(0.91 1)">NMF10</text>
<text class="yl" transform="translate(71.4 309.45) scale(0.91 1)">NMF3</text>
<text class="yl" transform="translate(71.4 320.36) scale(0.91 1)">NMF2</text>
<text class="yl" transform="translate(71.4 331.26) scale(0.91 1)">NMF4</text>
<text class="yl" transform="translate(71.4 342.16) scale(0.91 1)">NMF12</text>
<text class="st" x="252.94" y="221.74">*</text>
<text class="xl" x="85" y="357.6">0.00</text>
<text class="xl" x="133.62" y="357.6">0.25</text>
<text class="xl" x="182.25" y="357.6">0.50</text>
<text class="xl" x="230.88" y="357.6">0.75</text>
<text class="tt" x="96.2" y="206.3">Response : <tspan class="b">Pre-</tspan>treatment</text>
<text class="dv" x="161.1" y="370.5">D-value</text>
<text class="yl" transform="translate(334 225.7) scale(0.91 1)">NMF6</text>
<text class="yl" transform="translate(334 236.52) scale(0.91 1)">NMF1</text>
<text class="yl" transform="translate(334 247.35) scale(0.91 1)">NMF8</text>
<text class="yl" transform="translate(334 258.18) scale(0.91 1)">NMF2</text>
<text class="yl" transform="translate(334 269.01) scale(0.91 1)">NMF7</text>
<text class="yl" transform="translate(334 279.84) scale(0.91 1)">NMF5</text>
<text class="yl" transform="translate(334 290.66) scale(0.91 1)">NMF11</text>
<text class="yl" transform="translate(334 301.49) scale(0.91 1)">NMF10</text>
<text class="yl" transform="translate(334 312.32) scale(0.91 1)">NMF4</text>
<text class="yl" transform="translate(334 323.15) scale(0.91 1)">NMF3</text>
<text class="yl" transform="translate(334 333.98) scale(0.91 1)">NMF9</text>
<text class="yl" transform="translate(334 344.8) scale(0.91 1)">NMF12</text>
<text class="xl" x="345.9" y="360.7">0.0</text>
<text class="xl" x="395.2" y="360.7">0.2</text>
<text class="xl" x="444.5" y="360.7">0.4</text>
<text class="xl" x="493.8" y="360.7">0.6</text>
<text class="tt" x="367.9" y="206.9">Progression : <tspan class="b">Pre-</tspan>treatment</text>
<text class="dv" x="429.1" y="371.5">D-value</text>
<text class="yl" transform="translate(67.4 410.36) scale(0.91 1)">NMF7</text>
<text class="yl" transform="translate(67.4 421.3) scale(0.91 1)">NMF5</text>
<text class="yl" transform="translate(67.4 432.23) scale(0.91 1)">NMF4</text>
<text class="yl" transform="translate(67.4 443.16) scale(0.91 1)">NMF1</text>
<text class="yl" transform="translate(67.4 454.1) scale(0.91 1)">NMF9</text>
<text class="yl" transform="translate(67.4 465.03) scale(0.91 1)">NMF3</text>
<text class="yl" transform="translate(67.4 475.97) scale(0.91 1)">NMF11</text>
<text class="yl" transform="translate(67.4 486.9) scale(0.91 1)">NMF8</text>
<text class="yl" transform="translate(67.4 497.84) scale(0.91 1)">NMF6</text>
<text class="yl" transform="translate(67.4 508.77) scale(0.91 1)">NMF2</text>
<text class="yl" transform="translate(67.4 519.7) scale(0.91 1)">NMF10</text>
<text class="yl" transform="translate(67.4 530.64) scale(0.91 1)">NMF12</text>
<text class="xl" x="78.1" y="547.1">0.0</text>
<text class="xl" x="131.7" y="547.1">0.2</text>
<text class="xl" x="185.3" y="547.1">0.4</text>
<text class="xl" x="238.9" y="547.1">0.6</text>
<text class="tt" x="96.2" y="394.9">Response : <tspan class="b">Post-</tspan>treatment</text>
<text class="dv" x="158.3" y="558.5">D-value</text>
<text class="yl r" transform="translate(331.2 409.59) scale(0.91 1)">NMF4</text>
<text class="yl r" transform="translate(331.2 420.56) scale(0.91 1)">NMF2</text>
<text class="yl" transform="translate(331.2 431.54) scale(0.91 1)">NMF9</text>
<text class="yl" transform="translate(331.2 442.51) scale(0.91 1)">NMF8</text>
<text class="yl" transform="translate(331.2 453.49) scale(0.91 1)">NMF6</text>
<text class="yl" transform="translate(331.2 464.46) scale(0.91 1)">NMF7</text>
<text class="yl" transform="translate(331.2 475.44) scale(0.91 1)">NMF3</text>
<text class="yl" transform="translate(331.2 486.41) scale(0.91 1)">NMF12</text>
<text class="yl" transform="translate(331.2 497.39) scale(0.91 1)">NMF11</text>
<text class="yl" transform="translate(331.2 508.36) scale(0.91 1)">NMF1</text>
<text class="yl" transform="translate(331.2 519.34) scale(0.91 1)">NMF5</text>
<text class="yl" transform="translate(331.2 530.31) scale(0.91 1)">NMF10</text>
<text class="st" x="503.64" y="408.99">***</text>
<text class="st" x="500.44" y="419.96">***</text>
<text class="xl" x="343.1" y="545.4">0.00</text>
<text class="xl" x="392.9" y="545.4">0.25</text>
<text class="xl" x="442.7" y="545.4">0.50</text>
<text class="xl" x="492.5" y="545.4">0.75</text>
<text class="tt" x="358.7" y="394.6">Progression : <tspan class="b">Post-</tspan>treatment</text>
<text class="dv" x="429.1" y="559.4">D-value</text>
</g>
</svg>
</body></html>
